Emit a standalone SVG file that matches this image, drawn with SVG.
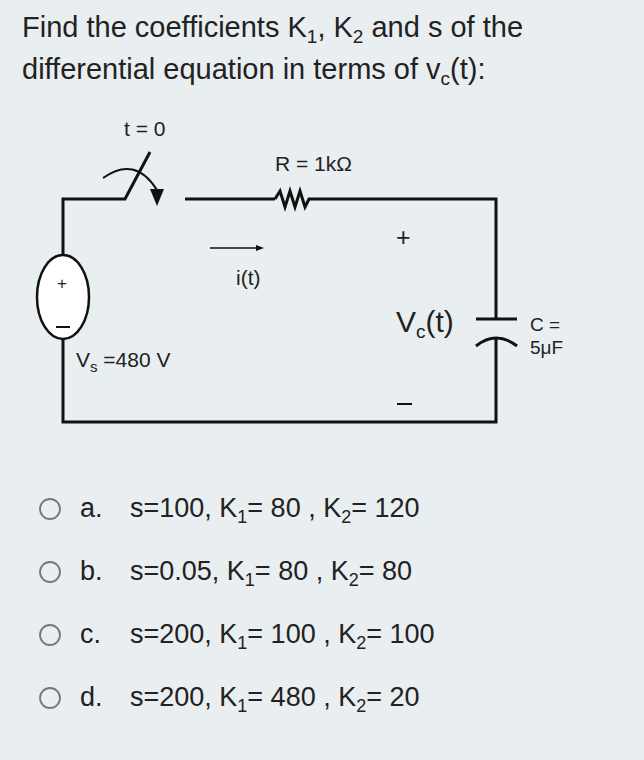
<svg xmlns="http://www.w3.org/2000/svg" width="644" height="760" viewBox="0 0 644 760">
<style>
text{font-family:"Liberation Sans",Arial,sans-serif;fill:#222}
.w{fill:none;stroke:#111;stroke-width:3}
.t{font-size:29px}
.c{font-size:21px}
.o{font-size:27px}
.r{fill:none;stroke:#777;stroke-width:1.8}
</style>
<rect width="644" height="760" fill="#e9eef0"/>
<text class="t" x="22" y="37">Find the coefficients K<tspan font-size="19" dy="6">1</tspan><tspan dy="-6">, K</tspan><tspan font-size="19" dy="6">2</tspan><tspan dy="-6"> and s of the</tspan></text>
<text class="t" x="22" y="79">differential equation in terms of v<tspan font-size="19" dy="6">c</tspan><tspan dy="-6">(t):</tspan></text>
<g id="wires">
<path class="w" d="M63,255 V199 H125 L150,152"/>
<path class="w" d="M185,199 H275"/>
<path class="w" d="M275,199 l5,-8 l5,16 l5,-16 l5,16 l5,-16 l5,16 l4,-8 H496 V319"/>
<path class="w" d="M476,319 H517"/>
<path class="w" d="M476,346 Q496,330 517,346"/>
<path class="w" d="M496,338 V422 H63 V340"/>
</g>
<g id="switch">
<path fill="none" stroke="#111" stroke-width="2" d="M103,178 Q135,155 157,190"/>
<polygon points="150,189 164,189 157,206" fill="#111"/>
<text class="c" x="124" y="136">t = 0</text>
</g>
<g id="source">
<ellipse cx="63" cy="297" rx="26" ry="42" fill="#fff" stroke="#111" stroke-width="2.5"/>
<text x="57" y="289" font-size="17">+</text>
<rect x="56" y="326" width="14" height="2" fill="#111"/>
<text class="c" x="76" y="367">V<tspan font-size="15" dy="5">s</tspan><tspan dy="-5"> =480 V</tspan></text>
</g>
<g id="current">
<path d="M210,248 H258" stroke="#111" stroke-width="1.5"/>
<polygon points="264,248 256,245 256,251" fill="#111"/>
<text class="c" x="236" y="285">i(t)</text>
</g>
<text class="c" x="275" y="171">R = 1kΩ</text>
<g id="cap">
<text x="396" y="246" font-size="25">+</text>
<rect x="397" y="403" width="15" height="2" fill="#111"/>
<text x="396" y="332" font-size="30">V<tspan font-size="19" dy="6">c</tspan><tspan dy="-6">(t)</tspan></text>
<text x="530" y="331" font-size="19">C =</text>
<text x="530" y="354" font-size="19">5μF</text>
</g>
<g id="options">
<circle class="r" cx="50" cy="509" r="10"/>
<text class="o" x="80" y="517">a.</text>
<text class="o" x="130" y="517">s=100, K<tspan font-size="18" dy="6">1</tspan><tspan dy="-6">= 80 , K</tspan><tspan font-size="18" dy="6">2</tspan><tspan dy="-6">= 120</tspan></text>
<circle class="r" cx="50" cy="572" r="10"/>
<text class="o" x="80" y="580">b.</text>
<text class="o" x="130" y="580">s=0.05, K<tspan font-size="18" dy="6">1</tspan><tspan dy="-6">= 80 , K</tspan><tspan font-size="18" dy="6">2</tspan><tspan dy="-6">= 80</tspan></text>
<circle class="r" cx="50" cy="635" r="10"/>
<text class="o" x="80" y="643">c.</text>
<text class="o" x="130" y="643">s=200, K<tspan font-size="18" dy="6">1</tspan><tspan dy="-6">= 100 , K</tspan><tspan font-size="18" dy="6">2</tspan><tspan dy="-6">= 100</tspan></text>
<circle class="r" cx="50" cy="698" r="10"/>
<text class="o" x="80" y="706">d.</text>
<text class="o" x="130" y="706">s=200, K<tspan font-size="18" dy="6">1</tspan><tspan dy="-6">= 480 , K</tspan><tspan font-size="18" dy="6">2</tspan><tspan dy="-6">= 20</tspan></text>
</g>
</svg>
